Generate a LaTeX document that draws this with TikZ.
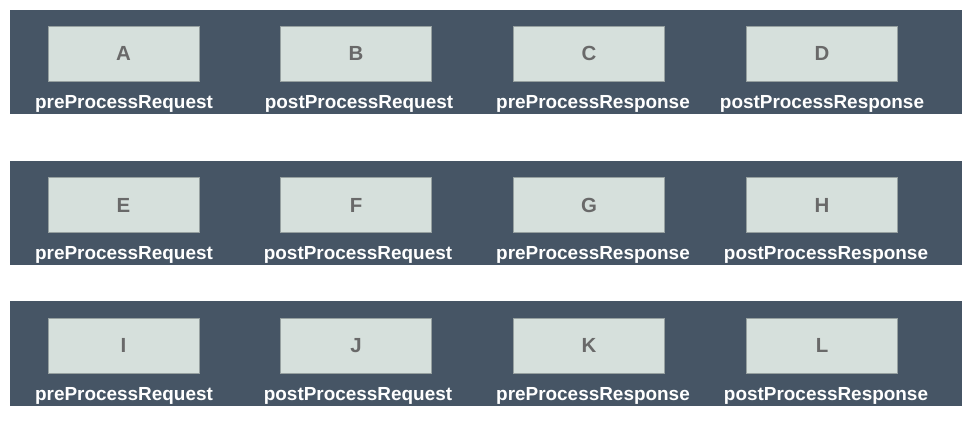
\documentclass[tikz,border=0pt]{standalone}
\usepackage{fontspec}
\setmainfont{Liberation Sans}
\usepackage{tikz}
\usepackage{xcolor}
\definecolor{band}{RGB}{70, 85, 101}
\definecolor{boxfill}{RGB}{214, 224, 220}
\definecolor{boxline}{RGB}{150, 160, 160}
\definecolor{letter}{RGB}{105, 105, 105}
\tikzset{
  hook/.style={draw=boxline, line width=0.8pt, fill=boxfill, minimum width=151bp, minimum height=55bp,
    inner sep=0pt, text=letter, font=\fontsize{20.5}{20.5}\selectfont\bfseries},
  hookname/.style={anchor=base, text=white, inner sep=0pt, font=\fontsize{19}{19}\selectfont\bfseries}
}

\begin{document}
\begin{tikzpicture}[x=1bp, y=-1bp]
\useasboundingbox (0,0) rectangle (972,423);

% 1段目
\fill[band] (10,10) rectangle (962,114);
\node[hook] (a) at (123.5,53.5) {A};
\node[hook] (b) at (356,53.5) {B};
\node[hook] (c) at (589,53.5) {C};
\node[hook] (d) at (822,53.5) {D};
\node[hookname] (a-name) at (124,108) {preProcessRequest};
\node[hookname] (b-name) at (359,108) {postProcessRequest};
\node[hookname] (c-name) at (593,108) {preProcessResponse};
\node[hookname] (d-name) at (822,108) {postProcessResponse};

% 2段目
\fill[band] (10,161) rectangle (962,265);
\node[hook] (e) at (123.5,205) {E};
\node[hook] (f) at (356,205) {F};
\node[hook] (g) at (589,205) {G};
\node[hook] (h) at (822,205) {H};
\node[hookname] (e-name) at (124,259) {preProcessRequest};
\node[hookname] (f-name) at (358,259) {postProcessRequest};
\node[hookname] (g-name) at (593,259) {preProcessResponse};
\node[hookname] (h-name) at (826,259) {postProcessResponse};

% 3段目
\fill[band] (10,301) rectangle (962,406);
\node[hook] (i) at (123.5,345.5) {I};
\node[hook] (j) at (356,345.5) {J};
\node[hook] (k) at (589,345.5) {K};
\node[hook] (l) at (822,345.5) {L};
\node[hookname] (i-name) at (124,400) {preProcessRequest};
\node[hookname] (j-name) at (358,400) {postProcessRequest};
\node[hookname] (k-name) at (593,400) {preProcessResponse};
\node[hookname] (l-name) at (826,400) {postProcessResponse};
\end{tikzpicture}
\end{document}
